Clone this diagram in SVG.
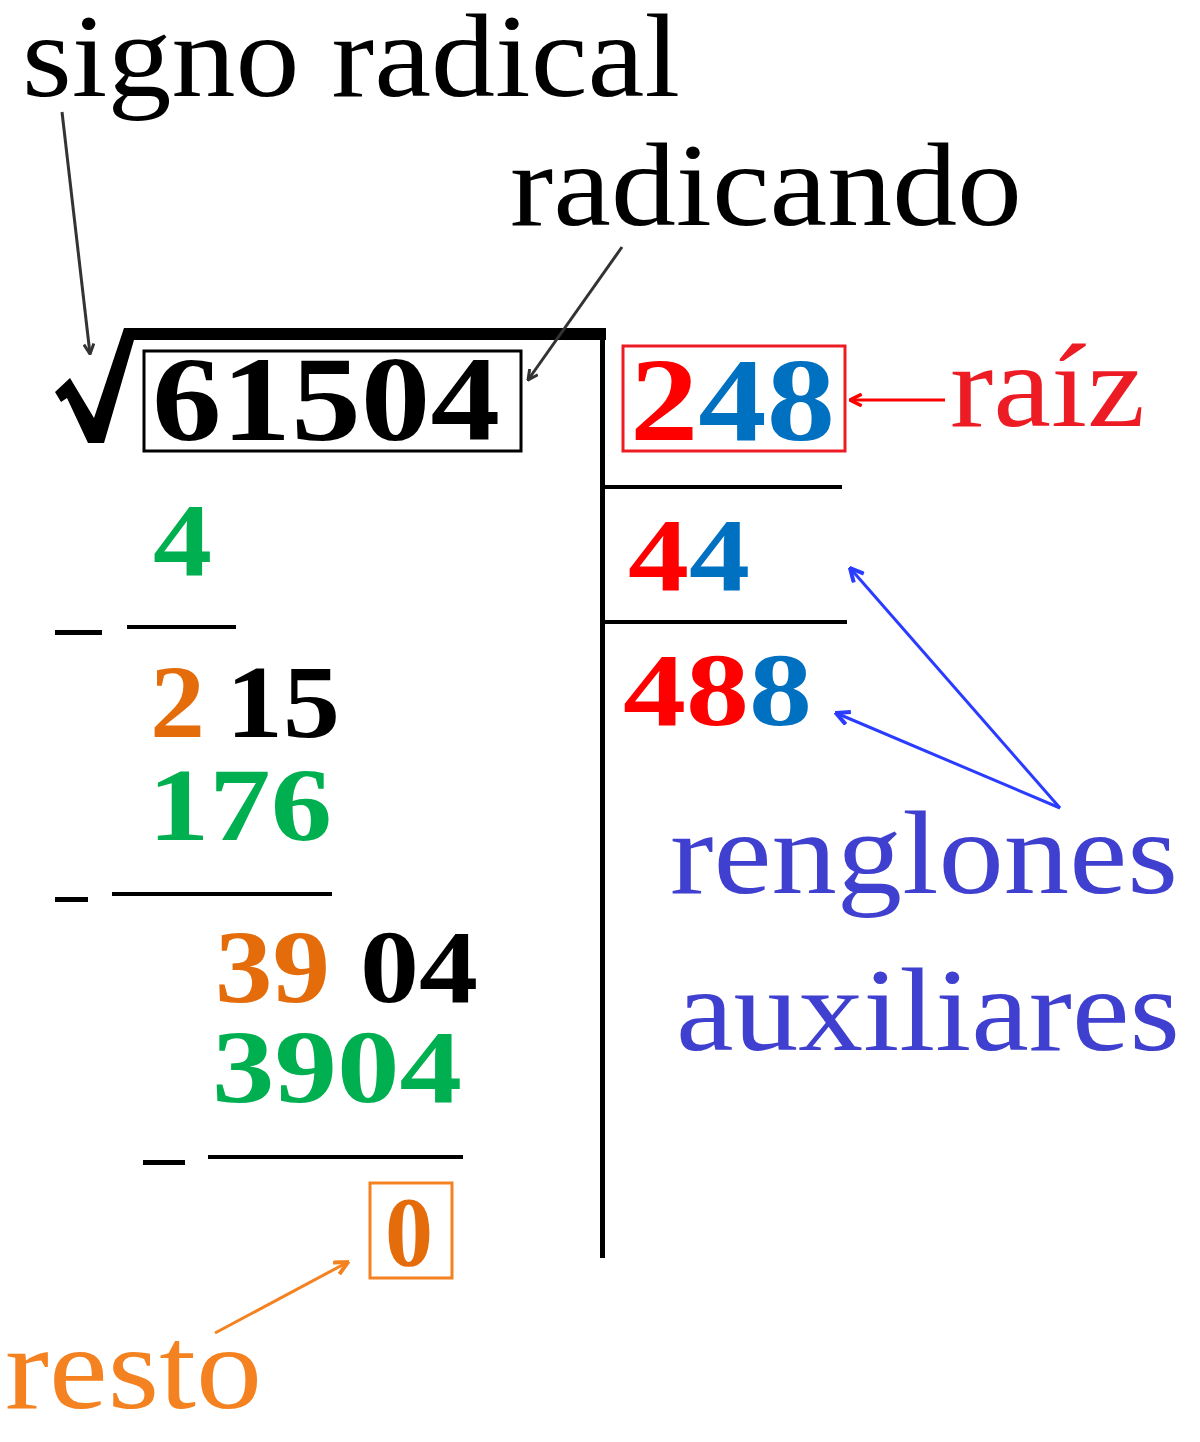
<svg xmlns="http://www.w3.org/2000/svg" width="1200" height="1442" viewBox="0 0 1200 1442">
<style>
.lab{font-family:"Liberation Serif","Times New Roman",serif;font-size:118px}
.num{font-family:"Liberation Serif","Times New Roman",serif;font-weight:bold}
.k{fill:#000}.g{fill:#00b050}.o{fill:#e46c0a}.r{fill:#ff0000}.b{fill:#0070c0}
</style>
<defs>
<marker id="ag" viewBox="0 0 12 12" refX="11" refY="6" markerWidth="12" markerHeight="12" markerUnits="userSpaceOnUse" orient="auto"><path d="M1,1 L11,6 L1,11" fill="none" stroke="#333" stroke-width="3"/></marker>
<marker id="ar" viewBox="0 0 12 12" refX="11" refY="6" markerWidth="14" markerHeight="14" markerUnits="userSpaceOnUse" orient="auto"><path d="M1,1 L11,6 L1,11" fill="none" stroke="#ff0000" stroke-width="3"/></marker>
<marker id="ab" viewBox="0 0 12 12" refX="11" refY="6" markerWidth="16" markerHeight="16" markerUnits="userSpaceOnUse" orient="auto"><path d="M1,1 L11,6 L1,11" fill="none" stroke="#2a3cff" stroke-width="3"/></marker>
<marker id="ao" viewBox="0 0 12 12" refX="11" refY="6" markerWidth="16" markerHeight="16" markerUnits="userSpaceOnUse" orient="auto"><path d="M1,1 L11,6 L1,11" fill="none" stroke="#f58220" stroke-width="3"/></marker>
</defs>

<g id="structure">
<polygon points="55,392 70,378 94,418 124,328 606,328 606,340 134,340 104,443 88,443 67,398 61,402" fill="#000"/>
<rect x="600" y="336" width="5" height="922" fill="#000"/>
<rect x="604" y="485" width="238" height="4" fill="#000"/>
<rect x="604" y="620" width="243" height="4" fill="#000"/>
<rect x="55" y="630" width="47" height="5" fill="#000"/>
<rect x="127" y="625" width="109" height="4" fill="#000"/>
<rect x="55" y="897" width="33" height="5" fill="#000"/>
<rect x="112" y="892" width="220" height="4" fill="#000"/>
<rect x="143" y="1160" width="42" height="5" fill="#000"/>
<rect x="208" y="1155" width="255" height="4" fill="#000"/>
</g>

<g id="signo-radical">
<text class="lab k" x="22" y="96" textLength="658" lengthAdjust="spacingAndGlyphs">signo radical</text>
</g>
<g id="radicando">
<text class="lab k" x="510" y="225" textLength="512" lengthAdjust="spacingAndGlyphs">radicando</text>
</g>
<g id="radicand-box">
<rect x="144" y="351" width="377" height="100" fill="none" stroke="#000" stroke-width="3"/>
<text class="num k" x="152" y="440" font-size="121" textLength="348" lengthAdjust="spacingAndGlyphs">61504</text>
</g>
<g id="root-box">
<rect x="623" y="346" width="222" height="105" fill="none" stroke="#ed1c24" stroke-width="3"/>
<text class="num" x="630" y="440" font-size="118" textLength="205" lengthAdjust="spacingAndGlyphs"><tspan class="r">2</tspan><tspan class="b">48</tspan></text>
</g>
<g id="raiz">
<text class="lab" x="950" y="426" fill="#ed1c24" textLength="195" lengthAdjust="spacingAndGlyphs">raíz</text>
</g>
<g id="aux-44">
<text class="num" x="628" y="590" font-size="104" textLength="122" lengthAdjust="spacingAndGlyphs"><tspan class="r">4</tspan><tspan class="b">4</tspan></text>
</g>
<g id="aux-488">
<text class="num" x="623" y="725" font-size="104" textLength="189" lengthAdjust="spacingAndGlyphs"><tspan class="r">48</tspan><tspan class="b">8</tspan></text>
</g>
<g id="renglones-auxiliares">
<text class="lab" x="670" y="893" fill="#4040d0" textLength="508" lengthAdjust="spacingAndGlyphs">renglones</text>
<text class="lab" x="676" y="1050" fill="#4040d0" textLength="504" lengthAdjust="spacingAndGlyphs">auxiliares</text>
</g>
<g id="step-4">
<text class="num g" x="153" y="575" font-size="104" textLength="59" lengthAdjust="spacingAndGlyphs">4</text>
</g>
<g id="step-215">
<text class="num o" x="150" y="737" font-size="104" textLength="55" lengthAdjust="spacingAndGlyphs">2</text>
<text class="num k" x="226" y="737" font-size="104" textLength="114" lengthAdjust="spacingAndGlyphs">15</text>
</g>
<g id="step-176">
<text class="num g" x="148" y="840" font-size="104" textLength="184" lengthAdjust="spacingAndGlyphs">176</text>
</g>
<g id="step-3904">
<text class="num o" x="215" y="1002" font-size="104" textLength="115" lengthAdjust="spacingAndGlyphs">39</text>
<text class="num k" x="360" y="1002" font-size="104" textLength="118" lengthAdjust="spacingAndGlyphs">04</text>
</g>
<g id="step-3904b">
<text class="num g" x="212" y="1102" font-size="104" textLength="250" lengthAdjust="spacingAndGlyphs">3904</text>
</g>
<g id="remainder-box">
<rect x="370" y="1183" width="82" height="95" fill="none" stroke="#f58220" stroke-width="3"/>
<text class="num o" x="385" y="1265" font-size="100" textLength="48" lengthAdjust="spacingAndGlyphs">0</text>
</g>
<g id="resto">
<text class="lab" x="5" y="1408" fill="#f58220" textLength="257" lengthAdjust="spacingAndGlyphs">resto</text>
</g>

<g id="connectors" fill="none" stroke-width="3">
<line x1="62" y1="112" x2="90" y2="354" stroke="#333" marker-end="url(#ag)"/>
<line x1="622" y1="247" x2="528" y2="380" stroke="#333" marker-end="url(#ag)"/>
<line x1="945" y1="400" x2="850" y2="400" stroke="#ff0000" marker-end="url(#ar)"/>
<line x1="1060" y1="808" x2="850" y2="568" stroke="#2a3cff" marker-end="url(#ab)"/>
<line x1="1060" y1="808" x2="836" y2="713" stroke="#2a3cff" marker-end="url(#ab)"/>
<line x1="215" y1="1333" x2="348" y2="1262" stroke="#f58220" marker-end="url(#ao)"/>
</g>
</svg>
